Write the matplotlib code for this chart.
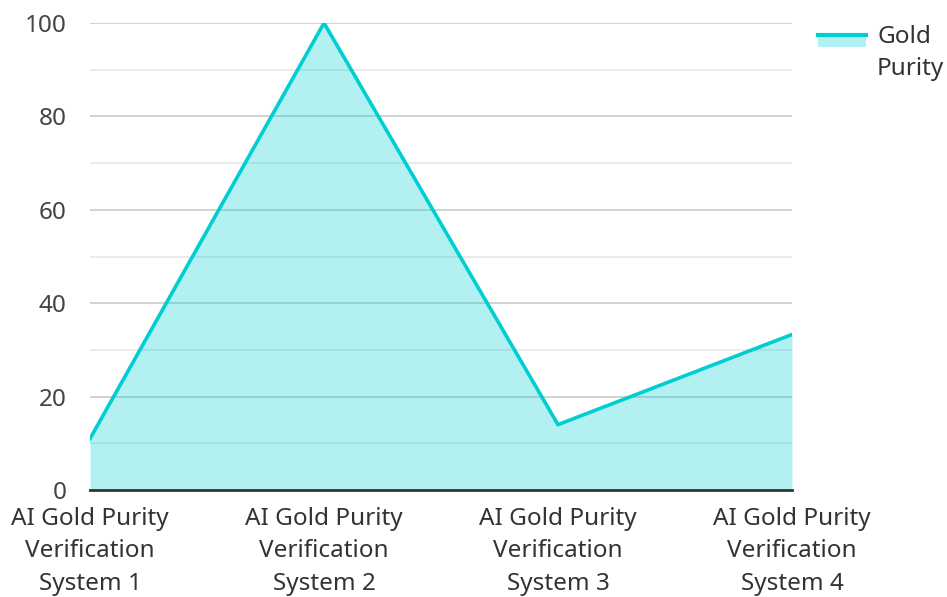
import matplotlib
matplotlib.use("Agg")
import matplotlib.pyplot as plt
from matplotlib.lines import Line2D
import matplotlib.patches as mpatches

categories = ["AI Gold Purity\nVerification\nSystem 1", "AI Gold Purity\nVerification\nSystem 2",
              "AI Gold Purity\nVerification\nSystem 3", "AI Gold Purity\nVerification\nSystem 4"]
values = [11, 100, 14, 33.3]
yticks = [0, 20, 40, 60, 80, 100]
series_name = "Gold\nPurity"

plt.rcParams['font.family'] = ['Noto Sans', 'DejaVu Sans']

W, H = 947, 597
FS = 17.5
line_color = "#00CED1"
fig = plt.figure(figsize=(W/100, H/100), dpi=100)
ax = fig.add_axes([90/W, 1-490/H, (792-90)/W, (490-23)/H])
x = list(range(len(categories)))
ax.fill_between(x, values, 0, color=line_color, alpha=0.3, linewidth=0, zorder=2)
ax.plot(x, values, color=line_color, linewidth=2.6, zorder=3, solid_joinstyle='miter')
ax.set_xlim(0, 3)
ax.set_ylim(0, 100)
ax.set_yticks(yticks)
ax.set_yticks([10, 30, 50, 70, 90], minor=True)
ax.yaxis.grid(True, which='major', color='#cccccc', linewidth=1.2, zorder=1)
ax.yaxis.grid(True, which='minor', color='#e6e6e6', linewidth=1.2, zorder=1)
ax.set_axisbelow(True)
ax.set_xticks(x)
ax.set_xticklabels(categories, fontsize=FS, color='#333333', linespacing=1.47)
ax.tick_params(axis='y', which='both', length=0, labelsize=FS, labelcolor='#444444', pad=17)
ax.tick_params(axis='x', length=0, pad=12)
for s in ['top', 'right', 'left']:
    ax.spines[s].set_visible(False)
ax.spines['bottom'].set_color('#333333')
ax.spines['bottom'].set_linewidth(2)
ax.spines['bottom'].set_zorder(4)

# legend
fig.patches.append(mpatches.Rectangle((818/W, 1-47/H), 48/W, 13/H, transform=fig.transFigure,
                                      facecolor=line_color, alpha=0.3, linewidth=0))
fig.lines.append(Line2D([818/W, 866/W], [1-35/H, 1-35/H], transform=fig.transFigure,
                        color=line_color, linewidth=3))
fig.text(877/W, 1-37/H, series_name.split("\n")[0], fontsize=FS, color='#333333', va='center', ha='left')
fig.text(877/W, 1-69/H, series_name.split("\n")[1], fontsize=FS, color='#333333', va='center', ha='left')
fig.savefig("out.png", dpi=100)
